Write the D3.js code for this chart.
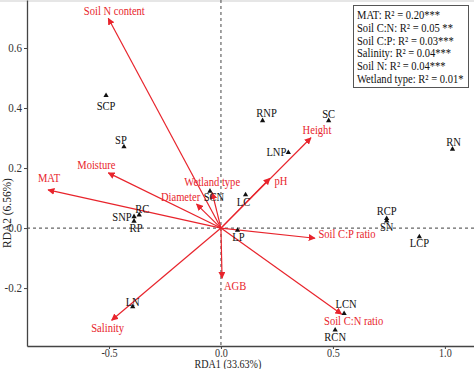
<!DOCTYPE html>
<html><head><meta charset="utf-8">
<script src="https://cdn.jsdelivr.net/npm/d3@7"></script>
<style>
html,body{margin:0;padding:0;background:#fff;}
svg{display:block;}
text{font-family:"Liberation Serif","Times New Roman",serif;}
</style></head>
<body>
<svg id="chart" width="474" height="369"></svg>
<script>
// ---- data ----
const siteNames = ["SCP","SP","RC","SNP","RP","SCN","LC","LP","RNP","SC","LNP","RN","RCP","SN","LCP","LN","LCN","RCN"];
const siteRDA1  = [-0.513,-0.433,-0.365,-0.388,-0.388,-0.049,0.110,0.074,0.186,0.481,0.301,1.034,0.740,0.740,0.886,-0.394,0.550,0.510];
const siteRDA2  = [0.442,0.271,0.044,0.038,0.023,0.123,0.111,-0.007,0.358,0.358,0.252,0.263,0.032,0.024,-0.029,-0.262,-0.285,-0.340];

const envNames = ["Soil N content","MAT","Moisture","Diameter","Wetland type","pH","Height","Soil C:P ratio","AGB","Soil C:N ratio","Salinity"];
const envRDA1  = [-0.503,-0.772,-0.503,-0.109,-0.039,0.219,0.402,0.420,0.005,0.539,-0.488];
const envRDA2  = [0.699,0.127,0.184,0.080,0.118,0.166,0.301,-0.034,-0.167,-0.287,-0.307];

const xTicks = [-0.5,0.0,0.5,1.0];
const yTicks = [-0.2,0.0,0.2,0.4,0.6];
const legendLines = ["MAT: R² = 0.20***","Soil C:N: R² = 0.05 **","Soil C:P: R² = 0.03***","Salinity: R² = 0.04***","Soil N: R² = 0.04***","Wetland type: R² = 0.01*"];
const xTitle = "RDA1 (33.63%)";
const yTitle = "RDA2 (6.56%)";

// ---- layout (label nudges in px) ----
const siteNudge = {SCP:[0,10],SP:[-3,-7],RC:[3,-6],SNP:[-12,0],RP:[2,7],SCN:[4,6],LC:[-2,7],LP:[1,7],
  RNP:[4,-8],SC:[0,-7],LNP:[-12,-1],RN:[1,-7],RCP:[0,-8],SN:[0,6],LCP:[0,6],LN:[0,-5],LCN:[2,-10],RCN:[0,7]};
const envNudge = {"Soil N content":[6,-8],"MAT":[1,-12],"Moisture":[-12,-8],"Diameter":[-16,-7],"Wetland type":[0,-11],
  "pH":[11,3],"Height":[6,-8],"Soil C:P ratio":[32,-5],"AGB":[13,8],"Soil C:N ratio":[12,7],"Salinity":[-4,8]};

const RED = "#e8242c";
const SX = 0.88; // horizontal squeeze of glyphs, as in the reference
const svg = d3.select("#chart");
const L=27, R=474, T=0, B=346;
const x = d3.scaleLinear().domain([-0.866,1.13]).range([L,R]);
const y = d3.scaleLinear().domain([-0.393,0.76]).range([B,T]);
const place = (px,py)=>`translate(${px},${py}) scale(${SX},1)`;

svg.append("rect").attr("x",0).attr("y",0).attr("width",474).attr("height",2).attr("fill","#e6e6e6");

// dashed zero lines
svg.append("line").attr("x1",L).attr("x2",R).attr("y1",y(0)).attr("y2",y(0))
  .attr("stroke","#666").attr("stroke-width",1.2).attr("stroke-dasharray","3,3");
svg.append("line").attr("x1",x(0)).attr("x2",x(0)).attr("y1",T).attr("y2",B)
  .attr("stroke","#666").attr("stroke-width",1.2).attr("stroke-dasharray","3,3");

// axes
const xAxis = svg.append("g").attr("transform",`translate(0,${B})`)
  .call(d3.axisBottom(x).tickValues(xTicks).tickFormat(d3.format(".1f")).tickSize(3).tickSizeOuter(0).tickPadding(2));
const yAxis = svg.append("g").attr("transform",`translate(${L},0)`)
  .call(d3.axisLeft(y).tickValues(yTicks).tickFormat(d3.format(".1f")).tickSize(3).tickSizeOuter(0).tickPadding(3));
[xAxis,yAxis].forEach(g=>{
  g.select(".domain").attr("stroke","#444").attr("stroke-width",1.3);
  g.selectAll(".tick line").attr("stroke","#444");
  g.selectAll(".tick text").attr("fill","#333").attr("font-size",12.5)
   .attr("font-family","'Liberation Serif',serif")
   .text(d=>d3.format(".1f")(d).replace("−","-"));
});
xAxis.selectAll(".tick text").attr("y",null).attr("dy",null).attr("font-size",11.5)
  .attr("transform",`translate(0,6.5) scale(${SX},1)`).attr("dominant-baseline","central");
yAxis.selectAll(".tick text").attr("x",null).attr("dy",null)
  .attr("transform",`translate(-5,0) scale(${SX},1)`).attr("dominant-baseline","central");

svg.append("text").attr("transform",place(x(0)+7,363.5)).attr("text-anchor","middle")
  .attr("dominant-baseline","central").attr("font-size",11.5).attr("fill","#222").text(xTitle);
svg.append("text").attr("transform",`translate(7,213) rotate(-90) scale(${SX},1)`).attr("text-anchor","middle")
  .attr("dominant-baseline","central").attr("font-size",13).attr("fill","#222").text(yTitle);

// arrows
const defs = svg.append("defs");
defs.append("marker").attr("id","ah").attr("viewBox","0 0 10 10").attr("refX",9).attr("refY",5)
  .attr("markerWidth",7).attr("markerHeight",7).attr("markerUnits","userSpaceOnUse").attr("orient","auto")
  .append("path").attr("d","M0,0 L10,5 L0,10 Z").attr("fill",RED);

const envData = envNames.map((n,i)=>({n, a:envRDA1[i], b:envRDA2[i]}));
svg.append("g").selectAll("line").data(envData).join("line")
  .attr("x1",x(0)).attr("y1",y(0)).attr("x2",d=>x(d.a)).attr("y2",d=>y(d.b))
  .attr("stroke",RED).attr("stroke-width",1.2).attr("marker-end","url(#ah)");

// sites
const siteData = siteNames.map((n,i)=>({n, a:siteRDA1[i], b:siteRDA2[i]}));
svg.append("g").selectAll("path").data(siteData).join("path")
  .attr("transform",d=>`translate(${x(d.a)},${y(d.b)})`)
  .attr("d",d3.symbol(d3.symbolTriangle,12)).attr("fill","#111");
svg.append("g").selectAll("text").data(siteData).join("text")
  .attr("transform",d=>place(x(d.a)+siteNudge[d.n][0], y(d.b)+siteNudge[d.n][1]))
  .attr("text-anchor","middle").attr("dominant-baseline","central")
  .attr("font-size",12).attr("fill","#111").text(d=>d.n);

svg.append("g").selectAll("text").data(envData).join("text")
  .attr("transform",d=>place(x(d.a)+envNudge[d.n][0], y(d.b)+envNudge[d.n][1]))
  .attr("text-anchor","middle").attr("dominant-baseline","central")
  .attr("font-size",12).attr("fill",RED).text(d=>d.n);

// legend
const lg = svg.append("g");
lg.append("rect").attr("x",353.5).attr("y",5.5).attr("width",115).attr("height",82)
  .attr("fill","#fff").attr("stroke","#555").attr("stroke-width",1);
lg.selectAll("text").data(legendLines).join("text")
  .attr("transform",(d,i)=>place(357,15+i*12.7)).attr("dominant-baseline","central")
  .attr("font-size",12).attr("fill","#111").text(d=>d);
</script>
</body></html>
